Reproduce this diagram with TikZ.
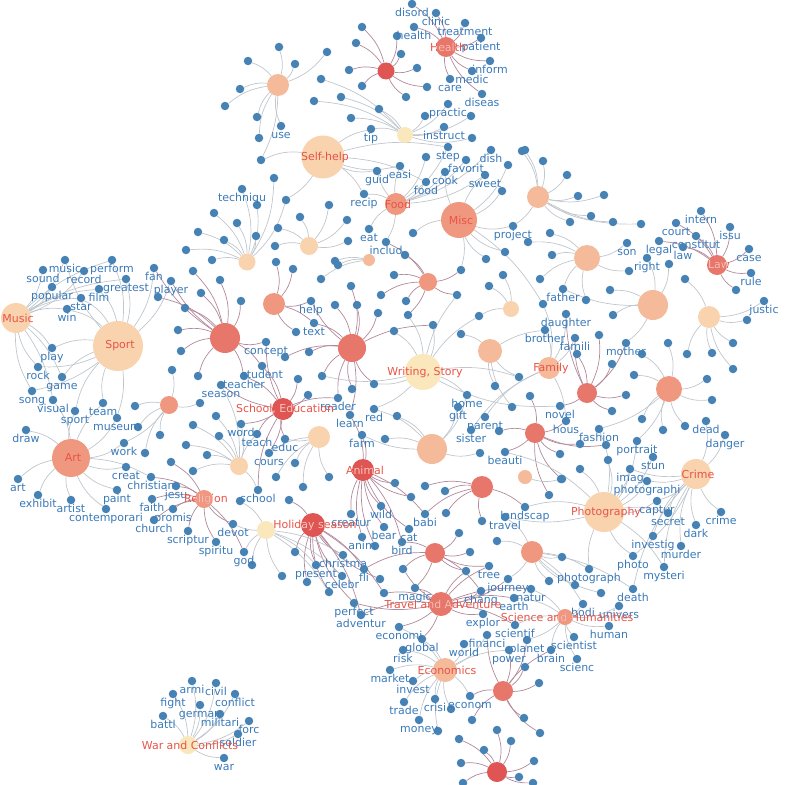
\documentclass[tikz,border=0pt]{standalone}
\usepackage{fontspec}
\setmainfont{DejaVu Sans}
\usepackage{tikz}
\pgfdeclarelayer{edges}
\pgfsetlayers{edges,main}
\definecolor{hA}{RGB}{250,228,180}
\definecolor{hB}{RGB}{247,206,165}
\definecolor{hC}{RGB}{243,178,143}
\definecolor{hD}{RGB}{237,141,113}
\definecolor{hE}{RGB}{228,104,90}
\definecolor{hF}{RGB}{219,66,64}
\definecolor{dotblue}{RGB}{70,130,180}
\definecolor{wordblue}{RGB}{58,122,185}
\definecolor{topicred}{RGB}{232,84,72}
\definecolor{palered}{RGB}{248,196,190}
\definecolor{linkg}{RGB}{192,198,204}
\definecolor{linkr}{RGB}{178,136,155}

\newcommand\plaindots{362/27/hRedA/r, 397/36/hRedA/r, 356/43/hRedA/r, 279/47/hPeachA/g,
  327/52/hPeachA/g, 401/54/hRedA/r, 295/64/hPeachA/g, 417/68/hRedA/r, 349/70/hRedA/r,
  321/79/hTip/g, 362/86/hRedA/r, 427/87/hRedA/r, 314/101/hTip/g, 341/97/hTip/g, 406/97/hRedA/r,
  379/109/hTip/g, 351/118/hTip/g, 425/116/hTip/g, 471/116/hTip/g, 472/138/hTip/g,
  426/157/hFood/g, 508/165/hMisc/g, 522/151/hPeachB/g, 502/191/hMisc/g, 274/178/hTech/g,
  286/200/hTech/g, 329/205/hLightC/g, 300/217/hLightC/g, 347/220/hLightC/g, 278/228/hLightC/g,
  413/233/hMisc/g, 348/241/hLightC/g, 275/246/hLightC/g, 405/255/hSalA/r, 486/259/hMisc/g,
  505/252/hMisc/g, 335/261/hSmall/g, 248/61/hPeachA/g, 240/89/hPeachA/g, 225/106/hPeachA/g,
  257/117/hPeachA/g, 259/138/hPeachA/g, 261/160/hSelf/g, 257/205/hTech/g, 214/213/hTech/g,
  237/223/hTech/g, 198/232/hTech/g, 224/240/hTech/g, 256/236/hTech/g, 186/250/hTech/g,
  212/260/hTech/g, 525/150/hPeachB/g, 543/161/hPeachB/g, 567/175/hPeachB/g, 578/196/hPeachB/g,
  604/195/hPeachB/g, 591/216/hPeachB/g, 570/222/hPeachB/g, 613/222/hPeachB/g, 641/224/hPeachB/g,
  550/233/hPeachC/g, 528/242/hPeachC/g, 552/255/hPeachC/g, 669/264/hPeachD/g, 629/271/hPeachC/g,
  685/279/hLightD/g, 736/290/hLaw/r, 610/290/hPeachD/g, 586/300/hPeachC/g, 540/279/hPeachC/g,
  543/304/hFamily/g, 613/315/hPeachD/g, 747/320/hLightD/g, 599/335/hRedD/r, 668/343/hSalC/g,
  733/343/hLightD/g, 577/354/hRedD/r, 612/364/hRedD/r, 642/354/hSalC/g, 687/354/hLightD/g,
  712/353/hLightD/g, 733/369/hLightD/g, 634/375/hSalC/g, 707/379/hSalC/g, 530/396/hRedE/r,
  626/395/hRedD/r, 712/400/hSalC/g, 612/411/hRedD/r, 642/419/hSalC/g, 663/430/hSalC/g,
  685/426/hSalC/g, 580/444/hRedE/r, 606/445/hRedE/r, 560/454/hRedE/r, 580/469/hPhoto/g,
  608/460/hPhoto/g, 561/479/hRedE/r, 549/495/hRedE/r, 562/557/hSalE/g, 549/581/hSalE/g,
  575/585/hSalE/g, 601/593/hSalE/g, 539/683/hRedH/r, 524/718/hRedH/r, 540/733/hRedH/r,
  534/761/hRedI/r, 533/783/hRedI/r, 525/667/hRedH/r, 276/262/hSalB/r, 293/269/hSalB/r,
  321/279/hSmall/g, 338/265/hSmall/g, 394/275/hSalA/r, 461/270/hSalA/r, 503/275/hLightE/g,
  489/286/hLightE/g, 351/286/hRedC/r, 381/295/hSalA/r, 457/295/hSalA/r, 406/301/hSalA/r,
  335/305/hRedC/r, 357/305/hRedC/r, 378/313/hRedC/r, 408/315/hWriting/g, 479/316/hLightE/g,
  296/332/hSalB/r, 433/325/hWriting/g, 394/331/hWriting/g, 461/334/hPeachE/g, 309/352/hRedC/r,
  285/357/hRedC/r, 322/376/hRedC/r, 298/379/hSchool/r, 519/377/hPeachE/g, 374/384/hRedC/r,
  352/389/hRedC/r, 495/386/hPeachE/g, 308/395/hSchool/r, 512/407/hPeachE/g, 397/416/hPeachG/g,
  499/431/hRedE/r, 385/439/hPeachG/g, 480/453/hPeachG/g, 276/477/hPeachF/g, 329/477/hPeachF/g,
  295/463/hPeachF/g, 395/483/hAnimal/r, 425/486/hRedF/r, 445/491/hRedF/r, 303/487/hPeachF/g,
  289/500/hHoliday/r, 446/513/hRedF/r, 482/521/hRedF/r, 411/497/hAnimal/r, 562/479/hPeachI/g,
  459/533/hRedG/r, 497/541/hSalE/g, 470/552/hRedG/r, 466/571/hRedG/r, 403/569/hRedG/r,
  380/579/hHoliday/r, 384/593/hTravel/r, 329/592/hHoliday/r, 295/552/hHoliday/r,
  282/576/hLightF/g, 307/582/hHoliday/r, 375/546/hAnimal/r, 193/271/hRedB/r, 220/280/hRedB/r,
  201/293/hRedB/r, 158/297/hRedB/r, 241/301/hRedB/r, 185/308/hRedB/r, 178/330/hRedB/r,
  181/351/hRedB/r, 172/370/hSalD/g, 198/376/hRedB/r, 135/406/hSalD/g, 200/403/hSalD/g,
  216/416/hPeachH/g, 138/427/hSalD/g, 160/435/hSalD/g, 193/425/hPeachH/g, 219/436/hPeachH/g,
  186/445/hPeachH/g, 145/453/hSalD/g, 207/455/hPeachH/g, 171/462/hReligion/r, 193/471/hPeachH/g,
  240/501/hLightF/g, 252/565/hLightF/g, 451/709/hEcon/g, 472/720/hRedH/r, 438/731/hEcon/g,
  497/730/hRedI/r, 459/739/hRedI/r, 511/741/hRedI/r, 484/750/hRedI/r, 461/763/hRedI/r,
  463/783/hRedI/r, 519/777/hRedI/r}

\newcommand\worddots{412/4/disord/hHealth/r, 436/13/clinic/hHealth/r,
  465/23/treatment/hHealth/r, 414/27/health/hHealth/r, 481/38/patient/hHealth/r,
  490/61/inform/hHealth/r, 472/71/medic/hHealth/r, 450/79/care/hHealth/r, 482/94/diseas/hHealth/r,
  448/104/practic/hTip/g, 444/127/instruct/hTip/g, 371/129/tip/hTip/g, 281/126/use/hPeachA/g,
  448/147/step/hFood/g, 466/160/favorit/hFood/g, 491/150/dish/hFood/g, 400/166/easi/hSelf/g,
  377/171/guid/hSelf/g, 445/172/cook/hFood/g, 485/175/sweet/hFood/g, 426/182/food/hFood/g,
  364/194/recip/hFood/g, 369/229/eat/hFood/g, 386/242/includ/hSalA/r, 513/226/project/hMisc/g,
  242/189/techniqu/hTech/g, 627/243/son/hPeachC/g, 659/241/legal/hLaw/r, 676/223/court/hLaw/r,
  701/211/intern/hLaw/r, 730/227/issu/hLaw/r, 696/236/constitut/hLaw/r, 683/247/law/hLaw/r,
  749/249/case/hLaw/r, 647/258/right/hPeachD/g, 751/273/rule/hLaw/r, 764/301/justic/hLightD/g,
  563/289/father/hPeachC/g, 566/314/daughter/hFamily/g, 545/330/brother/hFamily/g,
  575/338/famili/hFamily/g, 626/343/mother/hRedD/r, 65/260/music/hMusic/g, 112/260/perform/hSport/g,
  43/270/sound/hMusic/g, 84/271/record/hMusic/g, 52/287/popular/hMusic/g, 99/289/film/hSport/g,
  126/279/greatest/hSport/g, 81/298/star/hSport/g, 67/309/win/hSport/g, 154/268/fan/hSport/g,
  171/281/player/hSport/g, 52/348/play/hSport/g, 38/367/rock/hMusic/g, 62/377/game/hSport/g,
  32/391/song/hMusic/g, 53/400/visual/hArt/g, 75/411/sport/hSport/g, 103/403/team/hSport/g,
  117/418/museum/hArt/g, 26/430/draw/hArt/g, 124/443/work/hArt/g, 126/467/creat/hArt/g,
  18/479/art/hArt/g, 151/477/christian/hReligion/r, 176/486/jesu/hReligion/r, 117/490/paint/hArt/g,
  38/495/exhibit/hArt/g, 71/500/artist/hArt/g, 152/499/faith/hReligion/r,
  106/509/contemporari/hArt/g, 173/509/promis/hReligion/r, 154/520/church/hReligion/r,
  188/531/scriptur/hReligion/r, 233/524/devot/hReligion/r, 216/542/spiritu/hReligion/r,
  244/552/god/hLightF/g, 244/376/teacher/hSchool/r, 221/385/season/hPeachH/g,
  262/366/student/hSchool/r, 266/342/concept/hRedB/r, 311/301/help/hSalB/r, 314/323/text/hRedC/r,
  338/398/reader/hRedC/r, 350/415/learn/hAnimal/r, 374/409/red/hPeachG/g, 362/435/farm/hAnimal/r,
  241/424/word/hPeachH/g, 257/434/teach/hSchool/r, 285/439/educ/hSchool/r, 269/453/cours/hPeachF/g,
  258/490/school/hSchool/r, 467/395/home/hPeachG/g, 458/407/gift/hPeachG/g,
  485/417/parent/hFamily/g, 471/430/sister/hFamily/g, 505/452/beauti/hPhoto/g,
  560/406/novel/hWriting/g, 566/421/hous/hRedE/r, 599/429/fashion/hPhoto/g, 706/421/dead/hCrime/g,
  725/435/danger/hCrime/g, 637/441/portrait/hPhoto/g, 653/457/stun/hPhoto/g, 630/469/imag/hPhoto/g,
  647/481/photographi/hPhoto/g, 657/501/captur/hPhoto/g, 721/512/crime/hCrime/g,
  668/513/secret/hCrime/g, 696/525/dark/hCrime/g, 653/536/investig/hCrime/g,
  681/546/murder/hCrime/g, 633/556/photo/hPhoto/g, 664/567/mysteri/hCrime/g,
  589/569/photograph/hPhoto/g, 633/589/death/hCrime/g, 583/604/bodi/hScience/g,
  619/606/univers/hScience/g, 609/626/human/hScience/g, 574/637/scientist/hScience/g,
  551/650/brain/hScience/g, 577/659/scienc/hScience/g, 527/640/planet/hRedH/r,
  515/625/scientif/hScience/g, 514/598/earth/hScience/g, 531/589/natur/hScience/g,
  508/579/journey/hTravel/r, 489/566/tree/hRedG/r, 481/591/chang/hTravel/r,
  483/614/explor/hTravel/r, 415/588/magic/hTravel/r, 487/635/financi/hEcon/g,
  464/644/world/hEcon/g, 509/650/power/hRedH/r, 422/639/global/hEcon/g, 399/627/economi/hEcon/g,
  403/650/risk/hEcon/g, 390/670/market/hEcon/g, 413/681/invest/hEcon/g, 435/699/crisi/hEcon/g,
  470/696/econom/hRedH/r, 404/702/trade/hEcon/g, 419/720/money/hEcon/g,
  354/603/perfect/hHoliday/r, 361/615/adventur/hTravel/r, 343/555/christma/hHoliday/r,
  316/565/present/hHoliday/r, 342/576/celebr/hHoliday/r, 364/569/fli/hRedG/r,
  362/537/anim/hAnimal/r, 384/527/bear/hAnimal/r, 409/529/cat/hAnimal/r, 402/542/bird/hRedG/r,
  381/506/wild/hAnimal/r, 351/514/creatur/hAnimal/r, 425/514/babi/hRedF/r,
  525/507/landscap/hPhoto/g, 505/517/travel/hSalE/g, 192/681/armi/hWar/g, 216/683/civil/hWar/g,
  173/694/fight/hWar/g, 235/694/conflict/hWar/g, 200/705/german/hWar/g, 220/714/militari/hWar/g,
  163/716/battl/hWar/g, 249/721/forc/hWar/g, 238/734/soldier/hWar/g, 224/758/war/hWar/g}

\newcommand\crosslinks{400-166/hFood/g, 426-182/hSelf/g, 448-147/hSelf/g, 445-172/hMisc/g,
  485-175/hMisc/g, 286-200/hSelf/g, 261-160/hPeachA/g, 371-129/hSelf/g, 377-171/hFood/g,
  364-194/hSelf/g, 386-242/hFood/g, 513-226/hPeachB/g, 543-304/hMisc/g, 461-270/hMisc/g,
  408-315/hSalA/r, 457-295/hWriting/g, 479-316/hWriting/g, 519-377/hWriting/g,
  374-384/hWriting/g, 467-395/hWriting/g, 433-325/hRedC/r, 322-376/hWriting/g,
  311-301/hRedC/r, 266-342/hSchool/r, 314-323/hSalB/r, 350-415/hRedC/r, 338-398/hSchool/r,
  362-435/hPeachG/g, 374-409/hWriting/g, 563-289/hPeachD/g, 566-314/hRedD/r,
  575-338/hRedD/r, 545-330/hPeachE/g, 626-343/hPeachD/g, 560-406/hRedD/r, 566-421/hFamily/g,
  599-429/hSalC/g, 637-441/hSalC/g, 630-469/hCrime/g, 647-481/hCrime/g, 657-501/hCrime/g,
  633-556/hCrime/g, 589-569/hSalE/g, 633-589/hSalE/g, 664-567/hPhoto/g, 668-513/hPhoto/g,
  583-604/hSalE/g, 505-452/hRedE/r, 525-507/hRedF/r, 505-517/hPhoto/g, 489-566/hTravel/r,
  508-579/hSalE/g, 481-591/hRedG/r, 415-588/hRedG/r, 364-569/hHoliday/r, 402-542/hAnimal/r,
  425-514/hAnimal/r, 354-603/hTravel/r, 343-555/hLightF/g, 316-565/hLightF/g,
  342-576/hLightF/g, 329-592/hLightF/g, 233-524/hLightF/g, 244-552/hReligion/r,
  258-490/hPeachH/g, 269-453/hSchool/r, 285-439/hPeachF/g, 257-434/hPeachH/g,
  241-424/hSchool/r, 221-385/hSchool/r, 244-376/hRedB/r, 262-366/hRedB/r, 151-477/hArt/g,
  124-443/hSalD/g, 117-418/hSport/g, 103-403/hArt/g, 75-411/hArt/g, 53-400/hMusic/g,
  62-377/hMusic/g, 52-348/hMusic/g, 38-367/hSport/g, 32-391/hSport/g, 65-260/hSport/g,
  112-260/hMusic/g, 99-289/hMusic/g, 126-279/hMusic/g, 81-298/hMusic/g, 67-309/hMusic/g,
  171-281/hRedB/r, 154-268/hRedB/r, 487-635/hRedH/r, 509-650/hEcon/g, 470-696/hEcon/g,
  399-627/hTravel/r, 422-639/hTravel/r, 361-615/hHoliday/r, 527-640/hScience/g,
  515-625/hTravel/r, 514-598/hTravel/r, 531-589/hTravel/r, 551-650/hRedH/r,
  466-571/hTravel/r, 403-569/hTravel/r, 384-593/hHoliday/r}

\newcommand\redtopic[4]{%
  \node[hl] (t#1) at (#2) {#4};
  \begin{scope}
    \clip (#2.center) circle[radius=#3 bp];
    \node[hl, text=palered] (t#1-in) at (#2) {#4};
  \end{scope}}

\begin{document}
\begin{tikzpicture}[x=1bp, y=-1bp,
    hub/.style={circle, inner sep=0pt, fill opacity=.9},
    wd/.style={circle, fill=dotblue, inner sep=0pt, minimum size=8.5bp},
    wl/.style={font=\fontsize{11}{13}\selectfont, text=wordblue, inner sep=0pt,
               text height=8bp, text depth=2bp},
    hl/.style={font=\fontsize{11}{13}\selectfont, text=topicred, xshift=2bp},
    lk/.style={line width=.7bp}]
  \useasboundingbox (0,0) rectangle (785,785);
  \foreach \n/\x/\y/\d/\c in {hHealth/446/47/20/hE, hRedA/386/71/17/hF, hPeachA/278/85/22/hC,
      hTip/405/135/16/hA, hSelf/323/157/43/hB, hFood/396/204/22/hD, hMisc/459/220/36/hD,
      hPeachB/538/197/22/hC, hTech/247/262/17/hB, hLightC/309/246/18/hB, hSmall/369/260/12/hC,
      hPeachC/587/258/26/hC, hLaw/717/265/20/hE, hSalA/428/282/18/hD, hPeachD/653/305/30/hC,
      hLightD/709/317/22/hB, hSalB/274/304/22/hD, hRedB/225/338/30/hE, hSport/118/346/50/hB,
      hMusic/16/318/30/hB, hRedC/352/348/28/hE, hWriting/423/372/36/hA, hPeachE/490/351/24/hC,
      hLightE/511/309/16/hB, hFamily/549/368/22/hC, hRedD/587/393/20/hE, hSalC/669/389/26/hD,
      hSchool/283/409/22/hF, hSalD/169/405/18/hD, hPeachF/319/437/22/hB, hPeachG/432/449/30/hC,
      hRedE/535/433/20/hE, hArt/71/458/38/hD, hPeachH/239/466/18/hB, hAnimal/363/470/22/hF,
      hRedF/482/487/22/hE, hPeachI/525/477/14/hC, hCrime/696/474/30/hB, hReligion/204/499/18/hD,
      hPhoto/604/512/40/hB, hHoliday/313/525/24/hF, hLightF/266/530/18/hA, hRedG/435/553/20/hE,
      hSalE/532/552/22/hD, hTravel/441/604/24/hE, hScience/565/617/16/hD, hEcon/445/670/24/hC,
      hRedH/503/691/20/hE, hRedI/497/772/20/hF, hWar/188/745/18/hA}
    \node[hub, fill=\c, minimum size=\d bp] (\n) at (\x,\y) {};

  \foreach \x/\y/\h/\c in \plaindots
    \node[wd] (w-\x-\y) at (\x,\y) {};
  \foreach \x/\y/\t/\h/\c in \worddots
    \node[wd, label={[wl]below:\t}] (w-\x-\y) at (\x,\y) {};

  \begin{pgfonlayer}{edges}
    \foreach \x/\y/\h/\c in \plaindots
      \draw[lk, draw=link\c] (w-\x-\y) to[bend left=15] (\h);
    \foreach \x/\y/\t/\h/\c in \worddots
      \draw[lk, draw=link\c] (w-\x-\y) to[bend left=15] (\h);
    \foreach \a/\h/\c in \crosslinks
      \draw[lk, draw=link\c] (w-\a) to[bend right=12] (\h);
  \end{pgfonlayer}

  \redtopic{Health}{hHealth}{10}{Health}
  \redtopic{Law}{hLaw}{10}{Law}
  \redtopic{School}{hSchool}{11}{School, Education}
  \redtopic{Animal}{hAnimal}{11}{Animal}
  \redtopic{Religion}{hReligion}{9}{Religion}
  \redtopic{Holiday}{hHoliday}{12}{Holiday season}
  \redtopic{Travel}{hTravel}{12}{Travel and Adventure}
  \redtopic{Science}{hScience}{8}{Science and Humanities}
  \node[hl] (tSelf) at (hSelf) {Self-help};
  \node[hl] (tFood) at (hFood) {Food};
  \node[hl] (tMisc) at (hMisc) {Misc};
  \node[hl] (tMusic) at (hMusic) {Music};
  \node[hl] (tSport) at (hSport) {Sport};
  \node[hl] (tWriting) at (hWriting) {Writing, Story};
  \node[hl] (tFamily) at (hFamily) {Family};
  \node[hl] (tArt) at (hArt) {Art};
  \node[hl] (tCrime) at (hCrime) {Crime};
  \node[hl] (tPhoto) at (hPhoto) {Photography};
  \node[hl] (tEcon) at (hEcon) {Economics};
  \node[hl] (tWar) at (hWar) {War and Conflicts};
\end{tikzpicture}
\end{document}
